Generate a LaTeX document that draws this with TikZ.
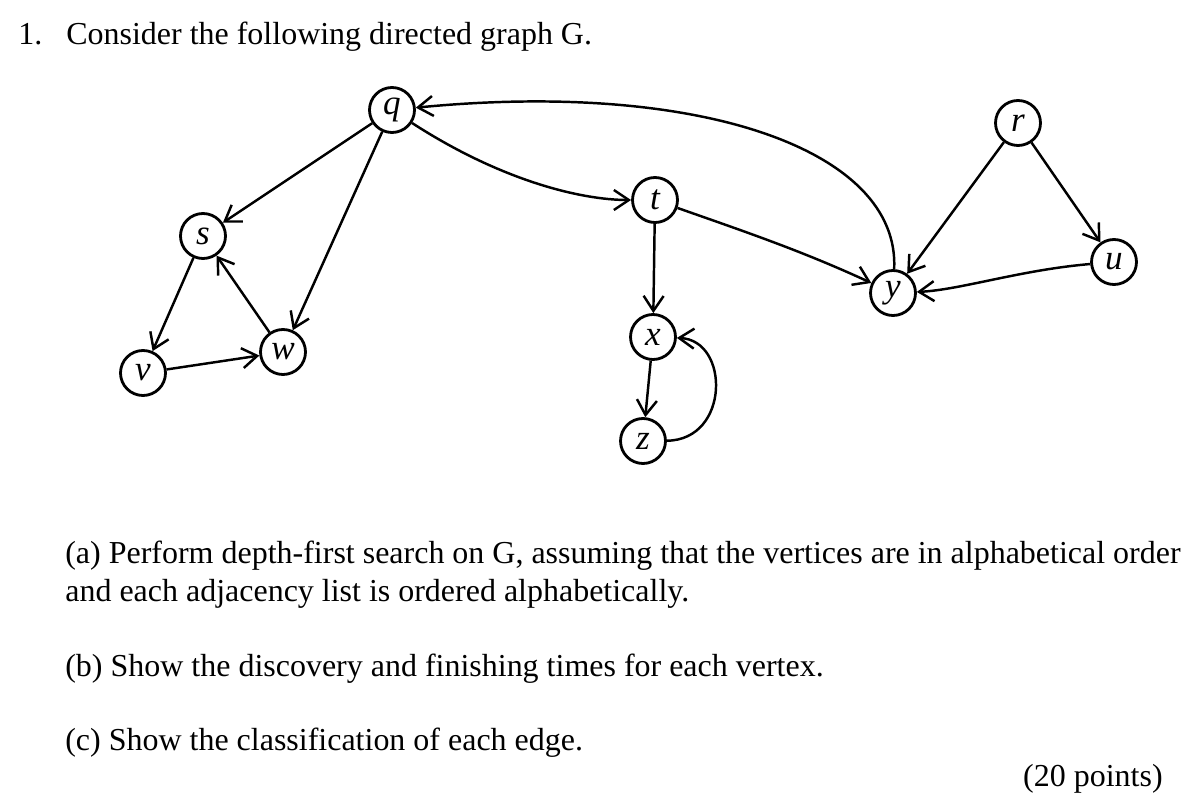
\documentclass[tikz,border=0pt]{standalone}
\usepackage{fontspec}
\setmainfont{Liberation Serif}
\usetikzlibrary{arrows.meta}
\begin{document}
\begin{tikzpicture}[x=0.02cm,y=-0.02cm,
 v/.style={circle,draw,line width=1.6pt,minimum size=0.9cm,inner sep=0pt,font=\fontsize{20}{20}\selectfont\itshape},
 e/.style={line width=1.4pt,-{Straight Barb[length=3mm,width=4mm]}},
 t/.style={anchor=base west,inner sep=0pt,font=\fontsize{18.2}{20}\selectfont}]
\useasboundingbox (0,0) rectangle (1203,803);
\node[t] (n1) at (18,45) {1.\ \ \ Consider the following directed graph G.};
\node[v] (q) at (392,110) {q};
\node[v] (s) at (203,236) {s};
\node[v] (v) at (143,373) {v};
\node[v] (w) at (283,352) {w};
\node[v] (t) at (655,200) {t};
\node[v] (x) at (653,337) {x};
\node[v] (z) at (643,441) {z};
\node[v] (y) at (893,293) {y};
\node[v] (r) at (1018,123) {r};
\node[v] (u) at (1114,262) {u};
\draw[e] (q) -- (s);
\draw[e] (q) -- (w);
\draw[e] (q) .. controls (500,180) and (580,200) .. (t);
\draw[e] (y) .. controls (900,150) and (700,80) .. (q);
\draw[e] (s) -- (v);
\draw[e] (w) -- (s);
\draw[e] (v) -- (w);
\draw[e] (t) -- (x);
\draw[e] (t) .. controls (740,230) and (800,250) .. (y);
\draw[e] (x) -- (z);
\draw[e] (z) .. controls (730,440) and (730,340) .. (x);
\draw[e] (r) -- (u);
\draw[e] (r) -- (y);
\draw[e] (u) .. controls (1020,270) and (960,290) .. (y);
\node[t] (a) at (65,563) {(a) Perform depth-first search on G, assuming that the vertices are in alphabetical order};
\node[t] (a2) at (65,601) {and each adjacency list is ordered alphabetically.};
\node[t] (b) at (65,676) {(b) Show the discovery and finishing times for each vertex.};
\node[t] (c) at (65,750) {(c) Show the classification of each edge.};
\node[t,anchor=base east] (p) at (1163,786) {(20 points)};
\end{tikzpicture}
\end{document}
